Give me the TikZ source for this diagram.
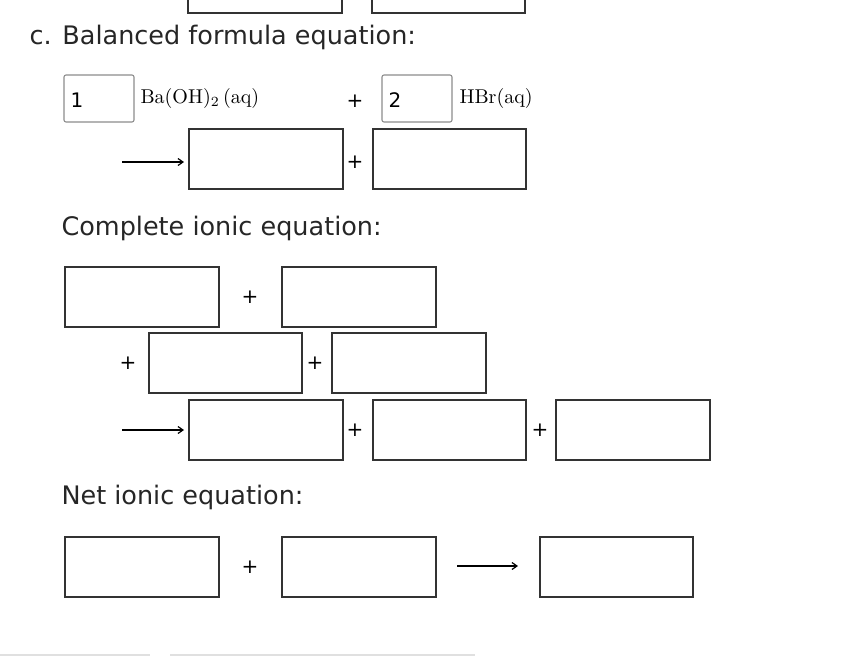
\documentclass[tikz,border=0pt]{standalone}
\usepackage{fontspec}
\setsansfont{DejaVu Sans}
\usetikzlibrary{arrows.meta}
\begin{document}
\begin{tikzpicture}[x=1pt,y=-1pt,
  bx/.style={draw=black!80,line width=1.6pt,fill=white},
  sm/.style={draw=black!45,line width=1.1pt,rounded corners=2pt},
  lbl/.style={anchor=west,font=\sffamily\fontsize{25.5}{28}\selectfont,text=black!85},
  pl/.style={font=\sffamily\fontsize{20}{22}\selectfont},
  eq/.style={anchor=west},
  arr/.style={-{Straight Barb[length=5pt,width=7pt]},line width=1.2pt}]
\useasboundingbox (0,0) rectangle (846,656);
\path[bx] (188,-5) rectangle (342,13); \path[bx] (372,-5) rectangle (525,13);
\node[lbl] (t1) at (26,37) {c. Balanced formula equation:};
\draw[sm] (64,75) rectangle (134,122); \node[pl,anchor=west] (n1) at (67,100) {1};
\node[eq] (r1) at (137,98) {\scalebox{2}{$\mathrm{Ba(OH)_2\,(aq)}$}};
\node[pl] (p0) at (355,101) {+};
\draw[sm] (382,75) rectangle (452,122); \node[pl,anchor=west] (n2) at (385,100) {2};
\node[eq] (r2) at (456,98) {\scalebox{2}{$\mathrm{HBr(aq)}$}};
\coordinate (a1) at (122,162); \coordinate (a1e) at (184,162);
\draw[arr] (a1) -- (a1e);
\node[bx,minimum width=154,minimum height=60,anchor=north west] (b1) at (188,128) {};
\node[pl] (p1) at (355,162) {+};
\node[bx,minimum width=153,minimum height=60,anchor=north west] (b2) at (372,128) {};
\node[lbl] (t2) at (58,228) {Complete ionic equation:};
\node[bx,minimum width=154,minimum height=60,anchor=north west] (c1) at (64,266) {};
\node[pl] (p2) at (250,297) {+};
\node[bx,minimum width=154,minimum height=60,anchor=north west] (c2) at (281,266) {};
\node[pl] (p3) at (128,363) {+};
\node[bx,minimum width=153,minimum height=60,anchor=north west] (c3) at (148,332) {};
\node[pl] (p4) at (315,363) {+};
\node[bx,minimum width=154,minimum height=60,anchor=north west] (c4) at (331,332) {};
\coordinate (a2) at (122,430); \coordinate (a2e) at (184,430);
\draw[arr] (a2) -- (a2e);
\node[bx,minimum width=154,minimum height=60,anchor=north west] (c5) at (188,399) {};
\node[pl] (p5) at (355,430) {+};
\node[bx,minimum width=153,minimum height=60,anchor=north west] (c6) at (372,399) {};
\node[pl] (p6) at (540,430) {+};
\node[bx,minimum width=154,minimum height=60,anchor=north west] (c7) at (555,399) {};
\node[lbl] (t3) at (58,497) {Net ionic equation:};
\node[bx,minimum width=154,minimum height=60,anchor=north west] (d1) at (64,536) {};
\node[pl] (p7) at (250,567) {+};
\node[bx,minimum width=154,minimum height=60,anchor=north west] (d2) at (281,536) {};
\coordinate (a3) at (457,566); \coordinate (a3e) at (518,566);
\draw[arr] (a3) -- (a3e);
\node[bx,minimum width=153,minimum height=60,anchor=north west] (d3) at (539,536) {};
\draw[black!12,line width=2pt] (0,655) -- (150,655) (170,655) -- (475,655);
\end{tikzpicture}
\end{document}
